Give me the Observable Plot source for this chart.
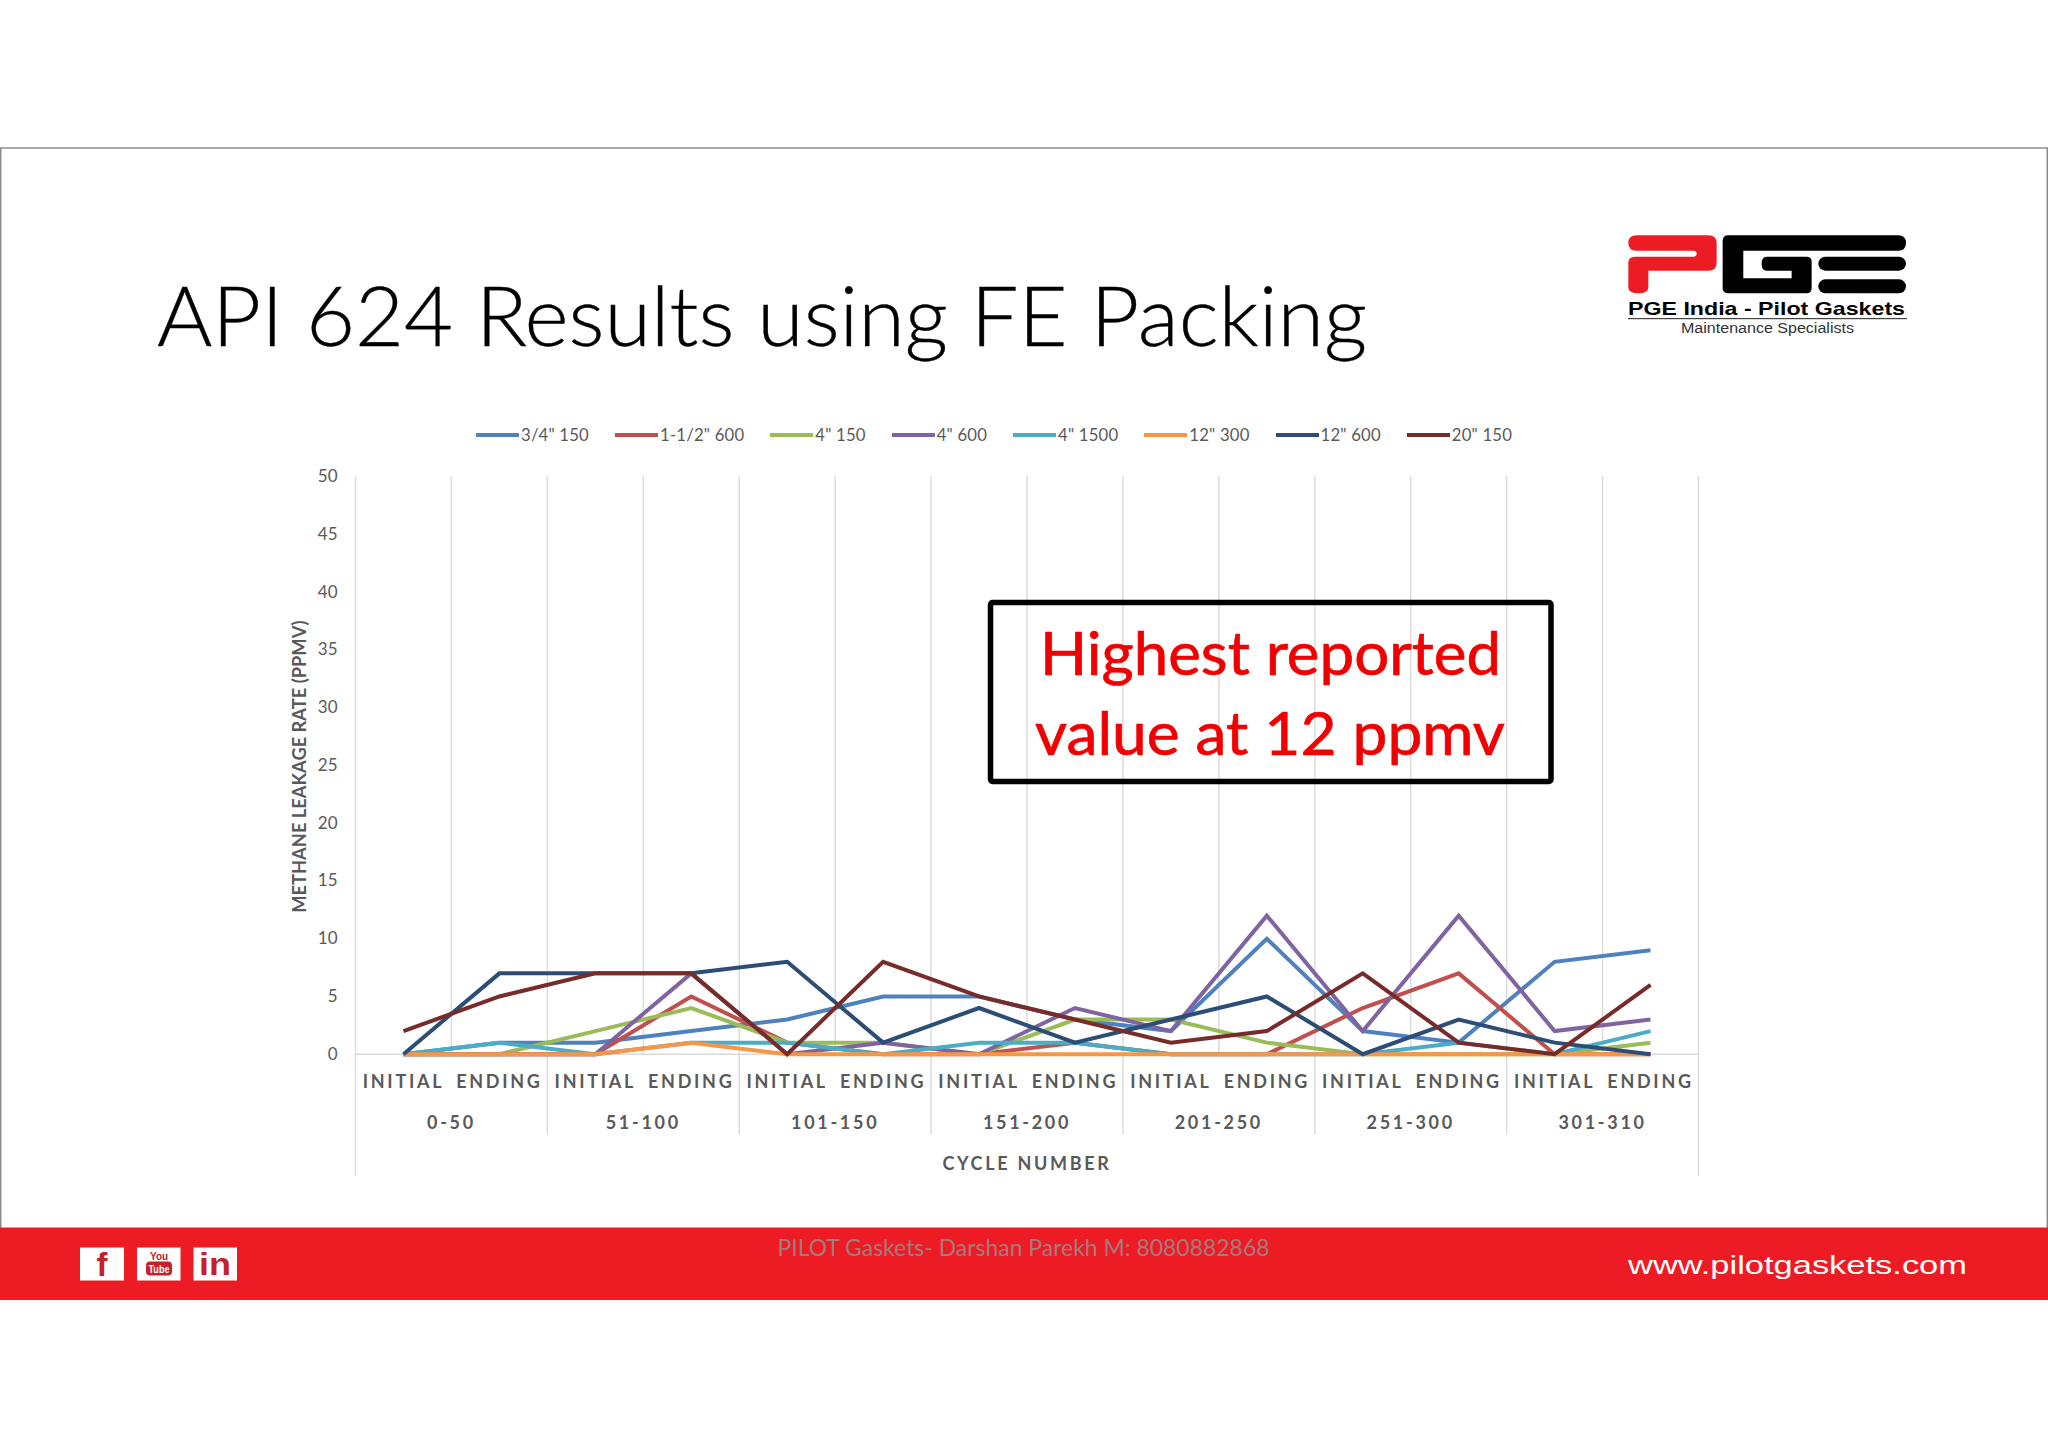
<!DOCTYPE html>
<html>
<head>
<meta charset="utf-8">
<script src="https://cdn.jsdelivr.net/npm/d3@7"></script>
<script src="https://cdn.jsdelivr.net/npm/@observablehq/plot@0.6"></script>
<style>
html,body{margin:0;padding:0;background:#fff}
#page{position:relative;width:2048px;height:1448px;overflow:hidden;background:#fff}
#page>svg,#plot,#plot svg{position:absolute;left:0;top:0}
#plot{width:2048px;height:1448px}
#plot svg{background:transparent;max-width:none}
#legend{position:absolute;left:476px;top:424px;display:flex;gap:26px;font:16.7px Lato,sans-serif;letter-spacing:.2px;color:#595959;line-height:22px;z-index:3}
#legend .item{display:flex;align-items:center;gap:2px}
#legend i{display:block;width:43px;height:4px}
g[aria-label^="x-axis"] text{letter-spacing:2.7px}
</style>
</head>
<body>
<div id="page">
<svg id="decor" width="2048" height="1448" viewBox="0 0 2048 1448">
  <rect x="0.75" y="148" width="2046.5" height="1090" fill="none" stroke="#8c8c8c" stroke-width="1.5"/>
  <text x="157" y="346" font-family="Lato" font-weight="300" font-size="82" textLength="1210" lengthAdjust="spacingAndGlyphs" fill="#000" stroke="#000" stroke-width=".4">API 624 Results using FE Packing</text>
  <g transform="translate(1580 210) scale(0.3333)">
    <path fill="#ed1c24" d="M170 76H385Q410 76 410 100V158Q410 182 385 182H205V232Q205 250 175 250Q145 250 145 232V158Q145 140 165 140H340Q350 140 350 131Q350 122 340 122H170Q145 122 145 99Q145 76 170 76Z"/>
    <path fill="#000" d="M445 76H955Q978 76 978 99Q978 122 955 122H490V205H635V182H560Q545 182 545 161Q545 140 560 140H680Q695 140 695 155V235Q695 250 680 250H445Q428 250 428 235V93Q428 76 445 76Z"/>
    <rect x="715" y="140" width="263" height="42" rx="21" fill="#000"/>
    <rect x="715" y="208" width="263" height="42" rx="21" fill="#000"/>
  </g>
  <text x="1628" y="314.5" font-family="Liberation Sans" font-weight="700" font-size="19" textLength="277" lengthAdjust="spacingAndGlyphs" fill="#000">PGE India - Pilot Gaskets</text>
  <rect x="1628" y="318" width="279" height="1.2" fill="#444"/>
  <text x="1681" y="332.5" font-family="Liberation Sans" font-size="14" textLength="173" lengthAdjust="spacingAndGlyphs" fill="#333">Maintenance Specialists</text>
  <rect x="0" y="1227.500" width="2048" height="72.500" fill="#ed1c24"/>
  <text x="777.500" y="1256" font-family="Lato" font-size="24" textLength="492" lengthAdjust="spacingAndGlyphs" fill="#a8797d">PILOT Gaskets- Darshan Parekh M: 8080882868</text>
  <text x="1628" y="1273.500" font-family="Liberation Sans" font-size="26" textLength="339" lengthAdjust="spacingAndGlyphs" fill="#fff">www.pilotgaskets.com</text>
  <rect x="80" y="1247.500" width="44" height="33" fill="#fff"/>
  <rect x="137" y="1247.500" width="43.5" height="33" fill="#fff"/>
  <rect x="193.500" y="1247.500" width="43.500" height="33" fill="#fff"/>
  <text x="102" y="1276" text-anchor="middle" font-family="Liberation Sans" font-weight="700" font-size="33" fill="#c8202a">f</text>
  <text x="159" y="1259.500" text-anchor="middle" font-family="Liberation Sans" font-weight="700" font-size="11" textLength="18" lengthAdjust="spacingAndGlyphs" fill="#c8202a">You</text>
  <rect x="146" y="1261.500" width="26" height="14" rx="4" fill="#c8202a"/>
  <text x="159" y="1272.500" text-anchor="middle" font-family="Liberation Sans" font-weight="700" font-size="11" textLength="21" lengthAdjust="spacingAndGlyphs" fill="#fff">Tube</text>
  <text x="215" y="1275" text-anchor="middle" font-family="Liberation Sans" font-weight="700" font-size="31" textLength="32" lengthAdjust="spacingAndGlyphs" fill="#c8202a">in</text>
</svg>
<div id="legend"></div>
<div id="plot"></div>
<svg id="overlay" width="2048" height="1448" viewBox="0 0 2048 1448">
  <rect x="990.500" y="602.500" width="560.500" height="179" rx="2" fill="none" stroke="#000" stroke-width="5.500"/>
  <text x="1040" y="675" font-family="Lato" font-size="60" textLength="461" lengthAdjust="spacingAndGlyphs" fill="#f00000" stroke="#f00000" stroke-width=".7">Highest reported</text>
  <text x="1035" y="755" font-family="Lato" font-size="60" textLength="470" lengthAdjust="spacingAndGlyphs" fill="#f00000" stroke="#f00000" stroke-width=".7">value at 12 ppmv</text>
</svg>
</div>
<script>
const stages = ["INITIAL","ENDING","INITIAL","ENDING","INITIAL","ENDING","INITIAL","ENDING","INITIAL","ENDING","INITIAL","ENDING","INITIAL","ENDING"];
const cycleGroups = ["0-50","51-100","101-150","151-200","201-250","251-300","301-310"];
const seriesNames = ['3/4" 150','1-1/2" 600','4" 150','4" 600','4" 1500','12" 300','12" 600','20" 150'];
const seriesColors = ["#4f81bd","#c0504d","#9bbb59","#8064a2","#4bacc6","#f79646","#2c4d75","#772c2a"];
const v34in150   = [0,1,1,2,3,5,5,3,2,10,2,1,8,9];
const v112in600  = [0,0,0,5,1,0,0,1,0,0,4,7,0,0];
const v4in150    = [0,0,2,4,1,1,0,3,3,1,0,0,0,1];
const v4in600    = [0,0,0,7,0,1,0,4,2,12,2,12,2,3];
const v4in1500   = [0,1,0,1,1,0,1,1,0,0,0,1,0,2];
const v12in300   = [0,0,0,1,0,0,0,0,0,0,0,0,0,0];
const v12in600   = [0,7,7,7,8,1,4,1,3,5,0,3,1,0];
const v20in150   = [2,5,7,7,0,8,5,3,1,2,7,1,0,6];
const allValues = [v34in150,v112in600,v4in150,v4in600,v4in1500,v12in300,v12in600,v20in150];
const yTicks = [0,5,10,15,20,25,30,35,40,45,50];
const xTitle = "CYCLE NUMBER";
const yTitle = "METHANE LEAKAGE RATE (PPMV)";

const rows = seriesNames.flatMap((s,k)=>allValues[k].map((v,i)=>({series:s,i,v})));
const positions = stages.map((_,i)=>i);
const boundaries = stages.map((_,i)=>i+0.5).slice(0,-1);
const groupEdges = positions.filter(i=>i%2===0).map(i=>i-0.5);
const groupCenters = cycleGroups.map((_,g)=>g*2+0.5);
const outerEdges = [-0.5,13.5];
const labelFont = {fontFamily:"Lato",fontWeight:700,fill:"#595959",fontSize:18};

const chart = Plot.plot({
  width:2048,height:1448,
  marginLeft:355,marginRight:350,marginTop:476.2,marginBottom:394.3,
  x:{domain:[-0.5,13.5],axis:null},
  y:{domain:[0,50],axis:null},
  color:{domain:seriesNames,range:seriesColors},
  style:{background:"transparent",overflow:"visible"},
  marks:[
    Plot.ruleX([...boundaries,...outerEdges],{stroke:"#dcdcdc",strokeWidth:1.5}),
    Plot.ruleX(groupEdges.slice(1),{y1:0,y2:-7,stroke:"#dcdcdc",strokeWidth:1.5}),
    Plot.ruleX(outerEdges,{y1:0,y2:-10.6,stroke:"#dcdcdc",strokeWidth:1.5}),
    Plot.ruleY([0],{stroke:"#d9d9d9",strokeWidth:1.5}),
    Plot.axisY(yTicks,{tickSize:0,tickPadding:18,label:null,fontFamily:"Lato",fontSize:17,fill:"#595959"}),
    Plot.text([yTitle],{frameAnchor:"left",textAnchor:"middle",y:[24.9],dx:-55,rotate:-90,fontFamily:"Lato",fontWeight:700,fontSize:18.3,fill:"#595959"}),
    Plot.axisX(positions,{anchor:"bottom",tickSize:0,tickPadding:21,label:null,tickFormat:i=>stages[i],...labelFont}),
    Plot.axisX(groupCenters,{anchor:"bottom",tickSize:0,tickPadding:62,label:null,tickFormat:(_,j)=>cycleGroups[j],...labelFont}),
    Plot.axisX([6.5],{anchor:"bottom",tickSize:0,tickPadding:103,label:null,tickFormat:()=>xTitle,...labelFont}),
    Plot.line(rows,{x:"i",y:"v",z:"series",stroke:"series",strokeWidth:4,strokeLinejoin:"miter",strokeLinecap:"butt",strokeMiterlimit:4})
  ]
});
document.getElementById("plot").appendChild(chart);

const legend = d3.select("#legend");
seriesNames.forEach((s,k)=>{
  const it = legend.append("div").attr("class","item");
  it.append("i").style("background",seriesColors[k]);
  it.append("span").text(s);
});
</script>
</body>
</html>
